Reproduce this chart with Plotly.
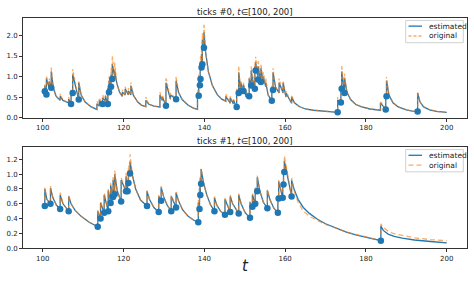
import plotly.graph_objects as go

# ---------------- data: panel 0 (ticks #0) ----------------
top_start_t, top_start_y = 100.2, 0.68
top_evt_t = [100.5, 100.9, 101.6, 102.1, 104.3, 106.4, 107.0, 107.4, 108.9, 113.4,
             114.0, 114.8, 115.5, 116.1, 116.4, 116.9, 117.2, 117.8, 119.7, 120.4,
             121.2, 121.8, 125.5, 129.0, 129.6, 130.5, 131.6, 133.0, 138.3, 138.6,
             138.9, 139.05, 139.3, 139.5, 139.9, 145.3, 146.4, 147.2, 148.0, 148.5,
             149.0, 149.7, 150.3, 151.1, 151.6, 152.2, 152.5, 152.7, 153.3, 154.0,
             154.6, 155.2, 156.7, 157.0, 158.5, 159.5, 160.2, 161.6, 173.0, 173.8,
             174.0, 174.7, 183.6, 184.9, 185.1, 192.8]
top_pre = [0.64, 0.56, 0.72, 0.73, 0.42, 0.36, 0.33, 0.60, 0.44, 0.20,
           0.28, 0.33, 0.40, 0.33, 0.62, 0.75, 0.94, 1.00, 0.52, 0.55,
           0.55, 0.55, 0.27, 0.26, 0.42, 0.29, 0.45, 0.45, 0.20, 0.53,
           0.79, 0.94, 1.22, 1.30, 1.70, 0.40, 0.35, 0.33, 0.26, 0.60,
           0.65, 0.65, 0.50, 0.52, 0.78, 0.72, 0.70, 1.15, 0.93, 0.87,
           0.85, 0.75, 0.41, 0.67, 0.60, 0.60, 0.50, 0.35, 0.13, 0.37,
           0.70, 0.60, 0.18, 0.20, 0.52, 0.15]
top_post_est = [0.78, 0.95, 0.88, 1.12, 0.52, 0.45, 0.62, 1.05, 0.85, 0.33,
                0.42, 0.48, 0.52, 0.72, 0.90, 1.05, 1.30, 1.15, 0.62, 0.70,
                0.65, 0.78, 0.42, 0.55, 0.50, 0.85, 0.55, 0.90, 0.62, 0.95,
                1.15, 1.35, 1.55, 1.90, 2.08, 0.52, 0.48, 0.42, 0.65, 1.10,
                0.85, 0.80, 0.60, 0.95, 1.15, 0.90, 1.25, 1.35, 1.25, 1.20,
                1.00, 0.85, 0.75, 1.10, 0.85, 0.85, 0.60, 0.50, 0.42, 0.75,
                1.12, 0.95, 0.36, 0.55, 0.90, 0.60]
top_post_orig = [0.82, 1.02, 0.95, 1.22, 0.58, 0.50, 0.70, 1.18, 0.88, 0.40,
                 0.48, 0.55, 0.58, 0.80, 1.00, 1.20, 1.50, 1.35, 0.68, 0.75,
                 0.72, 0.85, 0.50, 0.62, 0.55, 0.98, 0.60, 1.00, 0.68, 1.05,
                 1.30, 1.50, 1.75, 2.05, 2.28, 0.58, 0.52, 0.45, 0.70, 1.25,
                 0.90, 0.85, 0.65, 1.00, 1.25, 1.00, 1.35, 1.48, 1.40, 1.30,
                 1.10, 0.95, 0.80, 1.20, 0.95, 0.90, 0.65, 0.55, 0.50, 0.80,
                 1.27, 1.07, 0.40, 0.58, 0.99, 0.62]
top_marked = [1, 1, 0, 1, 0, 0, 1, 1, 1, 0,
              0, 1, 0, 1, 1, 1, 1, 0, 0, 0,
              0, 0, 0, 0, 0, 1, 0, 1, 0, 1,
              1, 1, 1, 1, 1, 0, 0, 0, 1, 1,
              1, 1, 0, 1, 1, 0, 1, 1, 1, 1,
              0, 0, 1, 1, 0, 0, 0, 0, 1, 1,
              1, 1, 0, 1, 1, 1]
top_knee_t = [102.6, 103.3, 105.0, 109.5, 110.5, 112.0, 118.3, 119.0, 122.4, 123.5,
              124.5, 126.2, 127.5, 133.6, 134.5, 136.0, 137.3, 140.3, 141.0, 142.0,
              143.2, 144.3, 155.8, 157.6, 162.3, 163.5, 165.0, 167.0, 169.5, 171.5,
              175.3, 176.2, 177.5, 179.0, 181.0, 185.7, 186.7, 188.0, 190.0, 191.5,
              193.4, 194.3, 195.8, 197.5, 200.0]
top_knee_y = [0.72, 0.52, 0.42, 0.55, 0.38, 0.26, 0.85, 0.62, 0.55, 0.38,
              0.30, 0.33, 0.28, 0.62, 0.44, 0.30, 0.23, 1.60, 1.12, 0.78,
              0.56, 0.45, 0.55, 0.75, 0.36, 0.27, 0.21, 0.18, 0.16, 0.14,
              0.62, 0.44, 0.32, 0.26, 0.21, 0.55, 0.36, 0.26, 0.19, 0.16,
              0.38, 0.26, 0.19, 0.15, 0.13]

# ---------------- data: panel 1 (ticks #1) ----------------
bot_start_t, bot_start_y = 100.3, 0.60
bot_evt_t = [100.5, 101.9, 104.3, 106.4, 113.6, 114.3, 115.2, 116.2, 116.8, 117.4,
             117.8, 119.4, 120.6, 121.0, 121.2, 121.6, 125.8, 128.7, 129.3, 131.8,
             133.0, 138.5, 138.8, 139.0, 139.2, 142.5, 145.1, 146.4, 148.5, 151.3,
             151.9, 152.6, 153.1, 155.6, 158.2, 158.4, 159.4, 159.6, 159.8, 161.6,
             183.7]
bot_pre = [0.57, 0.60, 0.53, 0.50, 0.29, 0.40, 0.48, 0.50, 0.61, 0.69,
           0.73, 0.63, 0.77, 0.77, 0.88, 1.01, 0.57, 0.49, 0.64, 0.50,
           0.55, 0.35, 0.53, 0.72, 0.87, 0.50, 0.45, 0.49, 0.47, 0.41,
           0.56, 0.60, 0.77, 0.54, 0.48, 0.67, 0.68, 0.86, 1.03, 0.70,
           0.10]
bot_pre_orig_last = 0.11
bot_post_est = [0.80, 0.81, 0.72, 0.70, 0.50, 0.61, 0.72, 0.78, 0.85, 0.92,
                1.00, 0.92, 0.97, 0.92, 1.05, 1.17, 0.77, 0.70, 0.82, 0.70,
                0.75, 0.62, 0.82, 0.95, 1.07, 0.68, 0.66, 0.70, 0.72, 0.62,
                0.72, 0.80, 0.96, 0.78, 0.70, 0.90, 0.88, 1.04, 1.18, 0.92,
                0.30]
bot_post_orig = [0.82, 0.84, 0.75, 0.72, 0.52, 0.63, 0.75, 0.80, 0.88, 0.98,
                 1.05, 0.95, 1.02, 0.95, 1.12, 1.27, 0.78, 0.72, 0.84, 0.72,
                 0.76, 0.65, 0.85, 0.98, 1.08, 0.70, 0.68, 0.72, 0.74, 0.64,
                 0.74, 0.82, 0.98, 0.80, 0.72, 0.92, 0.90, 1.06, 1.25, 0.95,
                 0.33]
bot_knee_t = [101.0, 102.5, 103.4, 105.0, 107.0, 108.0, 109.5, 111.5, 118.4, 122.2,
              123.0, 124.2, 126.4, 127.5, 129.9, 130.8, 133.6, 134.6, 136.0, 137.3,
              139.8, 140.6, 141.5, 143.1, 144.0, 147.0, 147.8, 149.1, 150.1, 153.7,
              154.6, 156.2, 157.2]
bot_knee_y = [0.66, 0.68, 0.58, 0.60, 0.60, 0.51, 0.43, 0.35, 0.78, 0.98,
              0.80, 0.65, 0.66, 0.55, 0.70, 0.58, 0.64, 0.52, 0.43, 0.38,
              0.88, 0.72, 0.59, 0.58, 0.50, 0.60, 0.52, 0.60, 0.48, 0.78,
              0.62, 0.66, 0.54]
bot_tail_t = [162.2, 163.2, 164.5, 166.0, 168.0, 170.0, 172.5, 175.0, 177.5, 180.0,
              182.0, 184.3, 185.5, 187.0, 189.0, 192.0, 196.0, 200.0]
bot_tail_est = [0.80, 0.66, 0.55, 0.47, 0.39, 0.33, 0.27, 0.22, 0.18, 0.145,
                0.12, 0.24, 0.19, 0.16, 0.135, 0.11, 0.09, 0.07]
bot_tail_orig = [0.78, 0.62, 0.50, 0.43, 0.37, 0.32, 0.27, 0.22, 0.185, 0.15,
                 0.125, 0.28, 0.23, 0.195, 0.17, 0.14, 0.115, 0.10]

titles = ["ticks #0, <i>t</i>\u2208[100, 200]", "ticks #1, <i>t</i>\u2208[100, 200]"]
legend_names = ["estimated", "original"]
x_ticks = [100, 120, 140, 160, 180, 200]
top_y_ticks = [0.0, 0.5, 1.0, 1.5, 2.0]
bot_y_ticks = [0.0, 0.2, 0.4, 0.6, 0.8, 1.0, 1.2]


def build_line(start_t, start_y, evt_t, pre, post, knee_t, knee_y):
    pts = [(start_t, 0, start_y)]
    for t, a, b in zip(evt_t, pre, post):
        pts.append((t, 1, a))
        pts.append((t, 2, b))
    for t, y in zip(knee_t, knee_y):
        pts.append((t, 0, y))
    pts.sort(key=lambda p: (p[0], p[1]))
    return [p[0] for p in pts], [p[2] for p in pts]


BLUE = "#1f77b4"
ORANGE = "#ff7f0e"
FONT = "DejaVu Sans"
W, H = 474, 284
ORANGE_OPACITY = 0.65

fig = go.Figure()

# top panel
tx, ty = build_line(top_start_t, top_start_y, top_evt_t, top_pre, top_post_est, top_knee_t, top_knee_y)
ox, oy = build_line(top_start_t, top_start_y, top_evt_t, top_pre, top_post_orig, top_knee_t, top_knee_y)
fig.add_trace(go.Scatter(x=tx, y=ty, mode="lines", name=legend_names[0], showlegend=False,
                         line=dict(color=BLUE, width=1.3), xaxis="x", yaxis="y"))
fig.add_trace(go.Scatter(x=ox, y=oy, mode="lines", name=legend_names[1], opacity=ORANGE_OPACITY,
                         showlegend=False,
                         line=dict(color=ORANGE, width=1.3, dash="3px,2px"), xaxis="x", yaxis="y"))
mt = [t for t, m in zip(top_evt_t, top_marked) if m]
my = [v for v, m in zip(top_pre, top_marked) if m]
fig.add_trace(go.Scatter(x=mt, y=my, mode="markers", showlegend=False,
                         marker=dict(color=BLUE, size=6.5), xaxis="x", yaxis="y"))

# bottom panel
bkt = bot_knee_t + bot_tail_t
bx, by = build_line(bot_start_t, bot_start_y, bot_evt_t, bot_pre, bot_post_est, bkt, bot_knee_y + bot_tail_est)
bot_pre_orig = bot_pre[:-1] + [bot_pre_orig_last]
box, boy = build_line(bot_start_t, bot_start_y, bot_evt_t, bot_pre_orig, bot_post_orig, bkt,
                      bot_knee_y + bot_tail_orig)
fig.add_trace(go.Scatter(x=bx, y=by, mode="lines", name=legend_names[0], showlegend=False,
                         line=dict(color=BLUE, width=1.3), xaxis="x2", yaxis="y2"))
fig.add_trace(go.Scatter(x=box, y=boy, mode="lines", name=legend_names[1], opacity=ORANGE_OPACITY,
                         showlegend=False,
                         line=dict(color=ORANGE, width=1.3, dash="5px,3px"), xaxis="x2", yaxis="y2"))
fig.add_trace(go.Scatter(x=bot_evt_t, y=bot_pre, mode="markers", showlegend=False,
                         marker=dict(color=BLUE, size=6.5), xaxis="x2", yaxis="y2"))

xdom = [23 / W, 467.3 / W]
axis_common = dict(showline=True, mirror=True, linecolor="#333", linewidth=1, ticks="outside",
                   ticklen=3, tickwidth=1, tickcolor="#333", showgrid=False, zeroline=False,
                   tickfont=dict(family=FONT, size=7, color="#222"))


def py(px):
    return 1 - px / H


def pxx(px):
    return px / W


# hand-drawn legends (matplotlib style boxes)
shapes = []
annotations = []
for box_top, dash in [(20.7, "3px,2px"), (151.7, "5px,3px")]:
    shapes.append(dict(type="rect", xref="paper", yref="paper",
                       x0=pxx(405.7), x1=pxx(463.3), y0=py(box_top + 22.6), y1=py(box_top),
                       line=dict(color="#d0d0d0", width=1), fillcolor="rgba(255,255,255,0.85)", layer="above"))
    for i, (name, color) in enumerate(zip(legend_names, [BLUE, ORANGE])):
        yy = box_top + 5.8 + i * 10.0
        shapes.append(dict(type="line", xref="paper", yref="paper",
                           x0=pxx(408.5), x1=pxx(422), y0=py(yy), y1=py(yy), layer="above",
                           opacity=1 if i == 0 else ORANGE_OPACITY,
                           line=dict(color=color, width=1.3, dash="solid" if i == 0 else dash)))
        annotations.append(dict(text=name, x=pxx(427), y=py(yy), xref="paper", yref="paper",
                                showarrow=False, xanchor="left", yanchor="middle",
                                font=dict(family=FONT, size=7.5, color="#222")))

annotations += [
    dict(text=titles[0], x=245 / W, y=py(11.7), xref="paper", yref="paper", showarrow=False,
         xanchor="center", yanchor="middle", font=dict(family=FONT, size=8.5, color="#222")),
    dict(text=titles[1], x=245 / W, y=py(143.3), xref="paper", yref="paper", showarrow=False,
         xanchor="center", yanchor="middle", font=dict(family=FONT, size=8.5, color="#222")),
    dict(text="<i>t</i>", x=245 / W, y=py(270), xref="paper", yref="paper", showarrow=False,
         xanchor="center", yanchor="middle", font=dict(family=FONT, size=15, color="#222")),
]

fig.update_layout(
    width=W, height=H, margin=dict(l=0, r=0, t=0, b=0),
    paper_bgcolor="white", plot_bgcolor="white", showlegend=False,
    font=dict(family=FONT, color="#222"),
    xaxis=dict(domain=xdom, range=[95.1, 205.1], tickvals=x_ticks, anchor="y", **axis_common),
    yaxis=dict(domain=[py(119.3), py(18.3)], range=[0, 2.425], tickvals=top_y_ticks,
               tickformat=".1f", anchor="x", **axis_common),
    xaxis2=dict(domain=xdom, range=[95.1, 205.1], tickvals=x_ticks, anchor="y2", **axis_common),
    yaxis2=dict(domain=[py(251.7), py(149.3)], range=[0, 1.365], tickvals=bot_y_ticks,
                tickformat=".1f", anchor="x2", **axis_common),
    shapes=shapes,
    annotations=annotations,
)

fig.write_html("out.html")
